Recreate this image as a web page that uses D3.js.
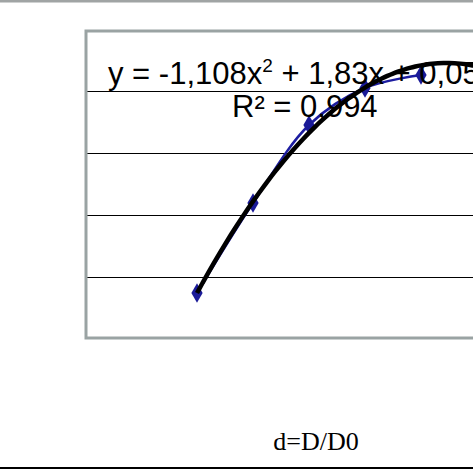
<!DOCTYPE html><html><head><meta charset="utf-8"><script src="https://cdn.jsdelivr.net/npm/d3@7"></script>
<style>body{margin:0;background:#fff}</style></head><body><svg id="c" width="473" height="473"></svg>
<script>
const xs=[0.38,0.48,0.58,0.68,0.78];
const ys=[0.5854,0.6715,0.7462,0.7816,0.7940];
const gridVals=[0.6007,0.6601,0.7194,0.7787];
const coef=[-1.108,1.83,0.05];
const eqText="y = -1,108x",r2Text="R² = 0,994",xLabel="d=D/D0";
const svg=d3.select("#c");
const x=d3.scaleLinear().domain([0.18,0.88]).range([85,477]);
const y=d3.scaleLinear().domain([0.5414,0.8371]).range([339,30]);
svg.append("line").attr("x1",0).attr("x2",473).attr("y1",1).attr("y2",1).attr("stroke","#a0a4a4").attr("stroke-width",3);
svg.append("line").attr("x1",0).attr("x2",473).attr("y1",468).attr("y2",468).attr("stroke","#000").attr("stroke-width",2);
svg.selectAll(".g").data(gridVals).enter().append("line").attr("x1",86).attr("x2",473).attr("y1",d=>Math.round(y(d))+0.5).attr("y2",d=>Math.round(y(d))+0.5).attr("stroke","#000");
svg.append("rect").attr("x",86).attr("y",31).attr("width",420).attr("height",307).attr("fill","none").attr("stroke","#9aa3a3").attr("stroke-width",3);
svg.append("path").datum(xs.map((v,i)=>[v,ys[i]])).attr("d",d3.line().x(d=>x(d[0])).y(d=>y(d[1])).curve(d3.curveCatmullRom)).attr("fill","none").attr("stroke","#1c1ca0").attr("stroke-width",2.5);
svg.selectAll(".p").data(xs).enter().append("path").attr("d",d3.symbol(d3.symbolDiamond,110)).attr("transform",(d,i)=>`translate(${x(d)},${y(ys[i])})`).attr("fill","#1a1a98");
const t=svg.append("text").attr("x",108).attr("y",84).attr("font-family","Liberation Sans, Arial").attr("font-size",31).attr("fill","#000");
t.append("tspan").text(eqText);t.append("tspan").attr("font-size",19).attr("dy",-12).text("2");t.append("tspan").attr("dy",12).text(" + 1,83x + 0,05");
svg.append("text").attr("x",232).attr("y",117).attr("font-family","Liberation Sans, Arial").attr("font-size",31).text(r2Text);
const tx=d3.range(0.38,0.885,0.01);
svg.append("path").datum(tx).attr("d",d3.line().x(d=>x(d)).y(d=>y(coef[0]*d*d+coef[1]*d+coef[2])).curve(d3.curveBasis)).attr("fill","none").attr("stroke","#000").attr("stroke-width",4.5);
svg.append("text").attr("x",316).attr("y",450).attr("text-anchor","middle").attr("font-family","Liberation Serif, Times New Roman").attr("font-size",26).text(xLabel);
</script></body></html>
